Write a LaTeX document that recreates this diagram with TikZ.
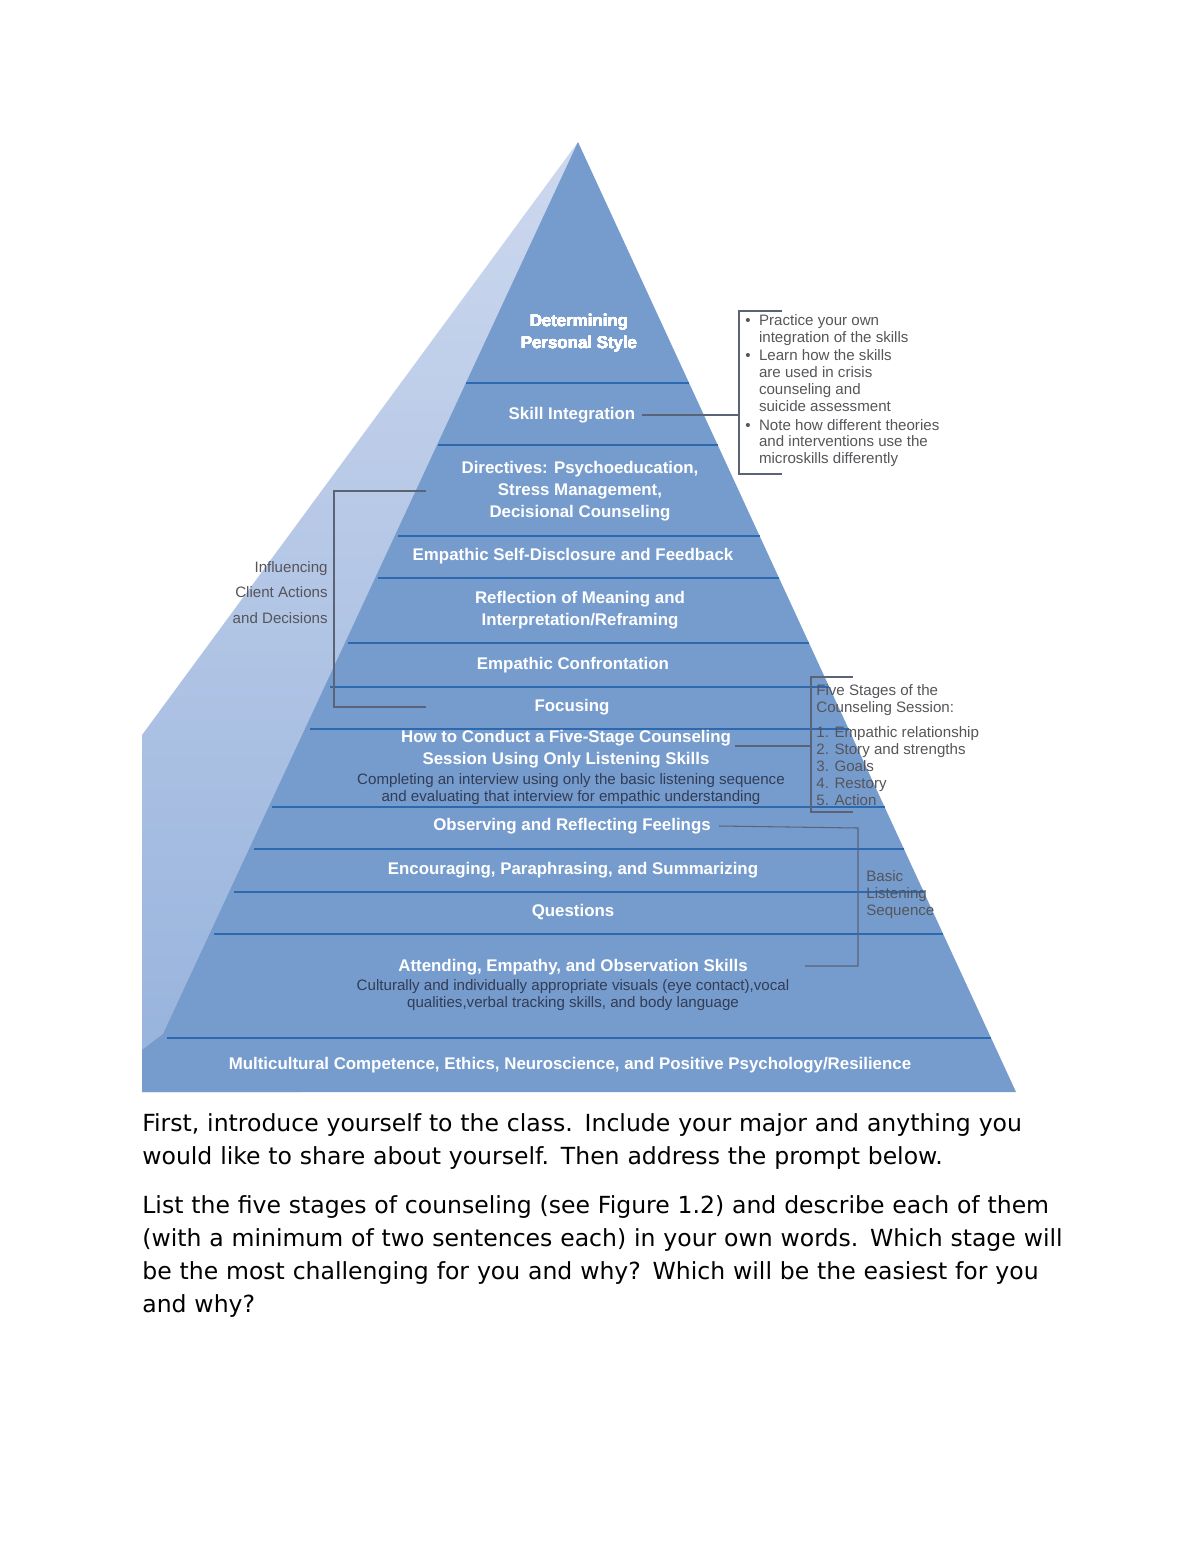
\documentclass[tikz,border=0pt]{standalone}
\usepackage{fontspec}
\setmainfont{Liberation Sans}
\newfontfamily\bodyfont{DejaVu Sans}
\usetikzlibrary{positioning}
\definecolor{faceblue}{RGB}{118,156,206}
\definecolor{sideblue}{RGB}{150,178,220}
\definecolor{sidelight}{RGB}{205,216,238}
\definecolor{bandline}{RGB}{45,105,175}
\definecolor{notegray}{RGB}{85,85,90}
\definecolor{darktext}{RGB}{50,60,85}
\tikzset{
  skill/.style={text=white, font=\bfseries\fontsize{9.6}{12.4}\selectfont, align=center, inner sep=0pt},
  small/.style={text=darktext, font=\fontsize{8.6}{9.6}\selectfont, align=center, inner sep=0pt},
  note/.style={text=notegray, font=\fontsize{8.6}{9.6}\selectfont, align=left, inner sep=0pt, anchor=north west},
  band/.style={bandline, line width=1.2pt},
  brace/.style={darktext!80, line width=0.6pt}
}
\newcommand{\bandat}[2]{\draw[band] (#2,#1) -- ({578+0.461*(#1-142)},#1);}
\begin{document}
\begin{tikzpicture}[x=0.02cm, y=-0.02cm]
    \useasboundingbox (0,0) rectangle (1200,1553);
    % pyramid faces
    \path[top color=sidelight, bottom color=sideblue] (578,142) -- (142,735) -- (142,1092) -- (300,1092) -- cycle;
    \fill[faceblue] (578,142) -- (1016,1092) -- (142,1092) -- (142,1050) -- (163,1034) -- cycle;
    % bands
    \foreach \y/\x in {383/466, 445/438, 536/398, 578/378, 643/348, 687/330, 729/310, 807/272, 849/254, 892/234, 934/214, 1038/167}
        \bandat{\y}{\x}
    % labels
    \node[skill] (style) at (579,333) {Determining\\Personal Style};
    \node[skill] (integ) at (572,415) {Skill Integration};
    \node[skill] (direct) at (580,491) {Directives: Psychoeducation,\\Stress Management,\\Decisional Counseling};
    \node[skill] (disclose) at (573,556) {Empathic Self-Disclosure and Feedback};
    \node[skill] (reflect) at (580,610) {Reflection of Meaning and\\Interpretation/Reframing};
    \node[skill] (confront) at (573,665) {Empathic Confrontation};
    \node[skill] (focus) at (572,707) {Focusing};
    \node[skill] (fivestage) at (566,749) {How to Conduct a Five-Stage Counseling\\Session Using Only Listening Skills};
    \node[small] (complete) at (571,789) {Completing an interview using only the basic listening sequence\\and evaluating that interview for empathic understanding};
    \node[skill] (observe) at (572,826) {Observing and Reflecting Feelings};
    \node[skill] (encourage) at (573,870) {Encouraging, Paraphrasing, and Summarizing};
    \node[skill] (quest) at (573,912) {Questions};
    \node[skill] (attend) at (573,967) {Attending, Empathy, and Observation Skills};
    \node[small] (visuals) at (573,995) {Culturally and individually appropriate visuals (eye contact),vocal\\qualities,verbal tracking skills, and body language};
    \node[skill] (multi) at (570,1065) {Multicultural Competence, Ethics, Neuroscience, and Positive Psychology/Resilience};
    % side notes
    \node[note] (practice) at (745,314) {\textbullet\ \ Practice your own\\\hphantom{\textbullet\ \ }integration of the skills\\[1pt]
        \textbullet\ \ Learn how the skills\\\hphantom{\textbullet\ \ }are used in crisis\\\hphantom{\textbullet\ \ }counseling and\\\hphantom{\textbullet\ \ }suicide assessment\\[1pt]
        \textbullet\ \ Note how different theories\\\hphantom{\textbullet\ \ }and interventions use the\\\hphantom{\textbullet\ \ }microskills differently};
    \node[note] (stages) at (816,684) {Five Stages of the\\Counseling Session:\\[5pt]1. Empathic relationship\\2. Story and strengths\\3. Goals\\4. Restory\\5. Action};
    \node[note, align=left] (basic) at (866,870) {Basic\\Listening\\Sequence};
    \node[note, anchor=north east, align=right, font=\fontsize{8.6}{14.6}\selectfont] (influence) at (328,561) {Influencing\\Client Actions\\and Decisions};
    % brackets
    \draw[brace] (782,311) -- (739,311) -- (739,474) -- (782,474);
    \draw[brace] (integ.east) ++(6,0) -- (739,415);
    \draw[brace] (426,491) -- (334,491) -- (334,707) -- (426,707);
    \draw[brace] (853,677) -- (811,677) -- (811,812) -- (853,812);
    \draw[brace] (fivestage.east) ++(4,-3) -- (811,746);
    \draw[brace] (observe.east) ++(8,0) -- (858,828) -- (858,966) -- (805,966);
    % prompt
    \node[anchor=north west, inner sep=0pt, align=left, text width=18.6cm, font=\bodyfont\fontsize{13.4}{18.8}\selectfont] (prompt) at (142,1113)
        {First, introduce yourself to the class. Include your major and anything you would like to share about yourself. Then address the prompt below.\par\vspace{9pt}
        List the five stages of counseling (see Figure 1.2) and describe each of them (with a minimum of two sentences each) in your own words. Which stage will be the most challenging for you and why? Which will be the easiest for you and why?};
\end{tikzpicture}
\end{document}
